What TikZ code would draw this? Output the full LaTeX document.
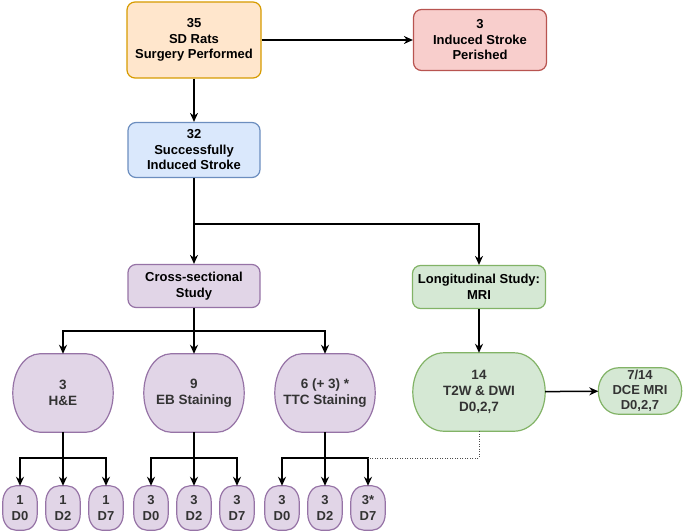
\documentclass[tikz,border=0pt]{standalone}
\usepackage{fontspec}
\setmainfont{Liberation Sans}
\usetikzlibrary{arrows.meta, backgrounds}

\definecolor{orangeFill}{HTML}{FFE6CC}
\definecolor{orangeLine}{HTML}{D79B00}
\definecolor{redFill}{HTML}{F8CECC}
\definecolor{redLine}{HTML}{B85450}
\definecolor{blueFill}{HTML}{DAE8FC}
\definecolor{blueLine}{HTML}{6C8EBF}
\definecolor{purpleFill}{HTML}{E1D5E7}
\definecolor{purpleLine}{HTML}{9673A6}
\definecolor{greenFill}{HTML}{D5E8D4}
\definecolor{greenLine}{HTML}{82B366}
\definecolor{darkText}{HTML}{333333}

\begin{document}
\begin{tikzpicture}[
  x=1pt, y=-1pt,
  >={Stealth[length=9pt, width=8pt]},
  font=\fontsize{13}{15.5}\selectfont\bfseries,
  conn/.style={line width=1.5pt},
  box node/.style={draw, line width=1.2pt, rounded corners=8pt, align=center, inner sep=0pt},
  purple node/.style={fill=purpleFill, draw=purpleLine},
  green node/.style={fill=greenFill, draw=greenLine},
  round node/.style={align=center, inner sep=0pt, text=darkText,
    font=\fontsize{13.5}{16}\selectfont\bfseries},
  leaf node/.style={round node, font=\fontsize{13}{16}\selectfont\bfseries,
    minimum width=34pt, minimum height=44pt},
]
  \newcommand*{\LeafY}{508}
  \newcommand*{\SplitY}{458}

  \useasboundingbox (0, 0) rectangle (685, 532);

  % Top boxes
  \node[box node, fill=orangeFill, draw=orangeLine, minimum width=134pt, minimum height=76pt]
    (surgery) at (194, 40) {35\\SD Rats\\Surgery Performed};
  \node[box node, fill=redFill, draw=redLine, minimum width=133pt, minimum height=61pt]
    (perished) at (480, 40) {3\\Induced Stroke\\Perished};
  \node[box node, fill=blueFill, draw=blueLine, minimum width=132pt, minimum height=55pt]
    (stroke) at (194, 150) {32\\Successfully\\Induced Stroke};
  \node[box node, purple node, minimum width=132pt, minimum height=43pt]
    (cross) at (194, 286) {Cross-sectional\\Study};
  \node[box node, green node, minimum width=133pt, minimum height=43pt]
    (longi) at (479, 287) {Longitudinal Study:\\MRI};

  % Study groups (outlines drawn below on the background layer)
  \node[round node, minimum width=100pt, minimum height=78pt] (he) at (63, 393) {3\\H\&E};
  \node[round node, minimum width=100pt, minimum height=78pt] (eb) at (194, 393) {9\\EB Staining};
  \node[round node, minimum width=100pt, minimum height=78pt] (ttc) at (325, 393) {6 (+ 3) *\\TTC Staining};
  \node[round node, minimum width=132pt, minimum height=78pt] (mri) at (479, 392) {14\\T2W \& DWI\\D0,2,7};
  \node[round node, minimum width=83pt, minimum height=46pt,
    font=\fontsize{13}{15}\selectfont\bfseries] (dce) at (640, 391) {7/14\\DCE MRI\\D0,2,7};

  % Leaves, node names: l1, l2, ...
  \foreach \x/\n/\d [count=\i] in {20/1/D0, 63/1/D2, 106/1/D7,
      151/3/D0, 194/3/D2, 237/3/D7, 282/3/D0, 325/3/D2, 368/3*/D7} {
    \node[leaf node] (l\i) at (\x, \LeafY) {\n\\\d};
  }

  % Connectors of the top part
  \draw[conn, ->] (surgery) -- (perished);
  \draw[conn, ->] (surgery) -- (stroke);
  \coordinate (ssplit) at (194, 224);
  \draw[conn] (stroke) -- (ssplit);
  \draw[conn, ->] (ssplit) -- (cross);
  \draw[conn, ->] (ssplit) -| (longi);
  \coordinate (csplit) at (194, 331);
  \draw[conn] (cross) -- (csplit);
  \draw[conn, ->] (csplit) -| (he);
  \draw[conn, ->] (csplit) -- (eb);
  \draw[conn, ->] (csplit) -| (ttc);
  \draw[conn, ->] (longi) -- (mri);
  \draw[conn, ->] (mri) -- (dce);

  % Connectors to the leaves
  \foreach \p [count=\k, evaluate=\k as \a using {int(3*\k-2)},
      evaluate=\k as \b using {int(3*\k-1)}, evaluate=\k as \c using {int(3*\k)}]
  in {he, eb, ttc} {
    \coordinate (s\k) at (\p.south |- 0, \SplitY);
    \draw[conn] (\p.south) -- (s\k);
    \draw[conn, ->] (s\k) -| (l\a.north);
    \draw[conn, ->] (s\k) -- (l\b.north);
    \draw[conn, ->] (s\k) -| (l\c.north);
  }

  \draw[line width=0.8pt, black!70, dash pattern=on 1pt off 1.5pt]
    (mri.south) |- (l9.north |- s3);

  % Rounded outlines with elliptic corners: name/x radius/y radius/colour
  \begin{pgfonlayer}{background}
    \foreach \n/\rx/\ry/\c in {he/27/39/purple, eb/27/39/purple, ttc/27/39/purple,
        mri/31/39/green, dce/20/23/green, l1/13/16/purple, l2/13/16/purple,
        l3/13/16/purple, l4/13/16/purple, l5/13/16/purple, l6/13/16/purple,
        l7/13/16/purple, l8/13/16/purple, l9/13/16/purple} {
      \filldraw[fill=\c Fill, draw=\c Line, line width=1.2pt]
        ([xshift=\rx pt]\n.north west) -- ([xshift=-\rx pt]\n.north east)
        arc[start angle=90, end angle=0, x radius=\rx pt, y radius=\ry pt]
        -- ([yshift=\ry pt]\n.south east)
        arc[start angle=0, end angle=-90, x radius=\rx pt, y radius=\ry pt]
        -- ([xshift=\rx pt]\n.south west)
        arc[start angle=270, end angle=180, x radius=\rx pt, y radius=\ry pt]
        -- ([yshift=-\ry pt]\n.north west)
        arc[start angle=180, end angle=90, x radius=\rx pt, y radius=\ry pt]
        -- cycle;
    }
  \end{pgfonlayer}
\end{tikzpicture}
\end{document}
